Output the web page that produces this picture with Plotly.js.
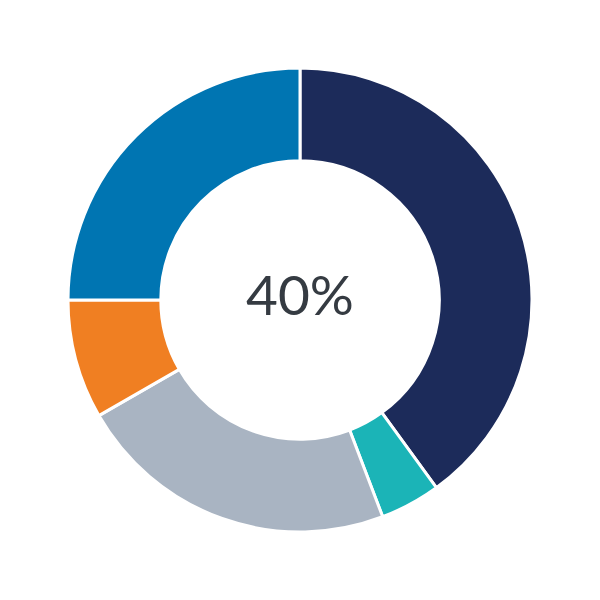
<!DOCTYPE html>
<html>
<head>
<meta charset="utf-8">
<script src="https://cdn.plot.ly/plotly-3.0.1.min.js"></script>
<style>
  html, body { margin: 0; padding: 0; background: #fff; }
  #graph { width: 600px; height: 600px; }
</style>
</head>
<body>
<div id="graph"></div>
<script>
// slices, clockwise from 12 o'clock
const labels = ['Navy', 'Teal', 'Gray', 'Orange', 'Blue'];
const values = [40, 4.2, 22.5, 8.3, 25];
const colors = ['#1c2b5a', '#1bb4b7', '#a9b4c2', '#f07f22', '#0075b2'];
const centerText = '40%';

function init_plot() {
    const trace = {
        type: 'pie',
        labels: labels,
        values: values,
        sort: false,
        direction: 'clockwise',
        rotation: 0,
        hole: 0.6,
        textinfo: 'none',
        hoverinfo: 'label+percent',
        marker: {
            colors: colors,
            line: { color: '#ffffff', width: 3 }
        }
    };

    const layout = {
        width: 600,
        height: 600,
        margin: { l: 68, r: 68, t: 68, b: 68 },
        showlegend: false,
        paper_bgcolor: '#ffffff',
        annotations: [{
            text: centerText,
            x: 0.5, y: 0.5,
            xref: 'paper', yref: 'paper',
            yshift: 6,
            showarrow: false,
            font: { family: 'Lato, sans-serif', size: 55, color: '#353b42' }
        }]
    };

    Plotly.newPlot('graph', [trace], layout, { displayModeBar: false, staticPlot: true });
}

window.addEventListener("load", init_plot, false);
</script>
</body>
</html>
